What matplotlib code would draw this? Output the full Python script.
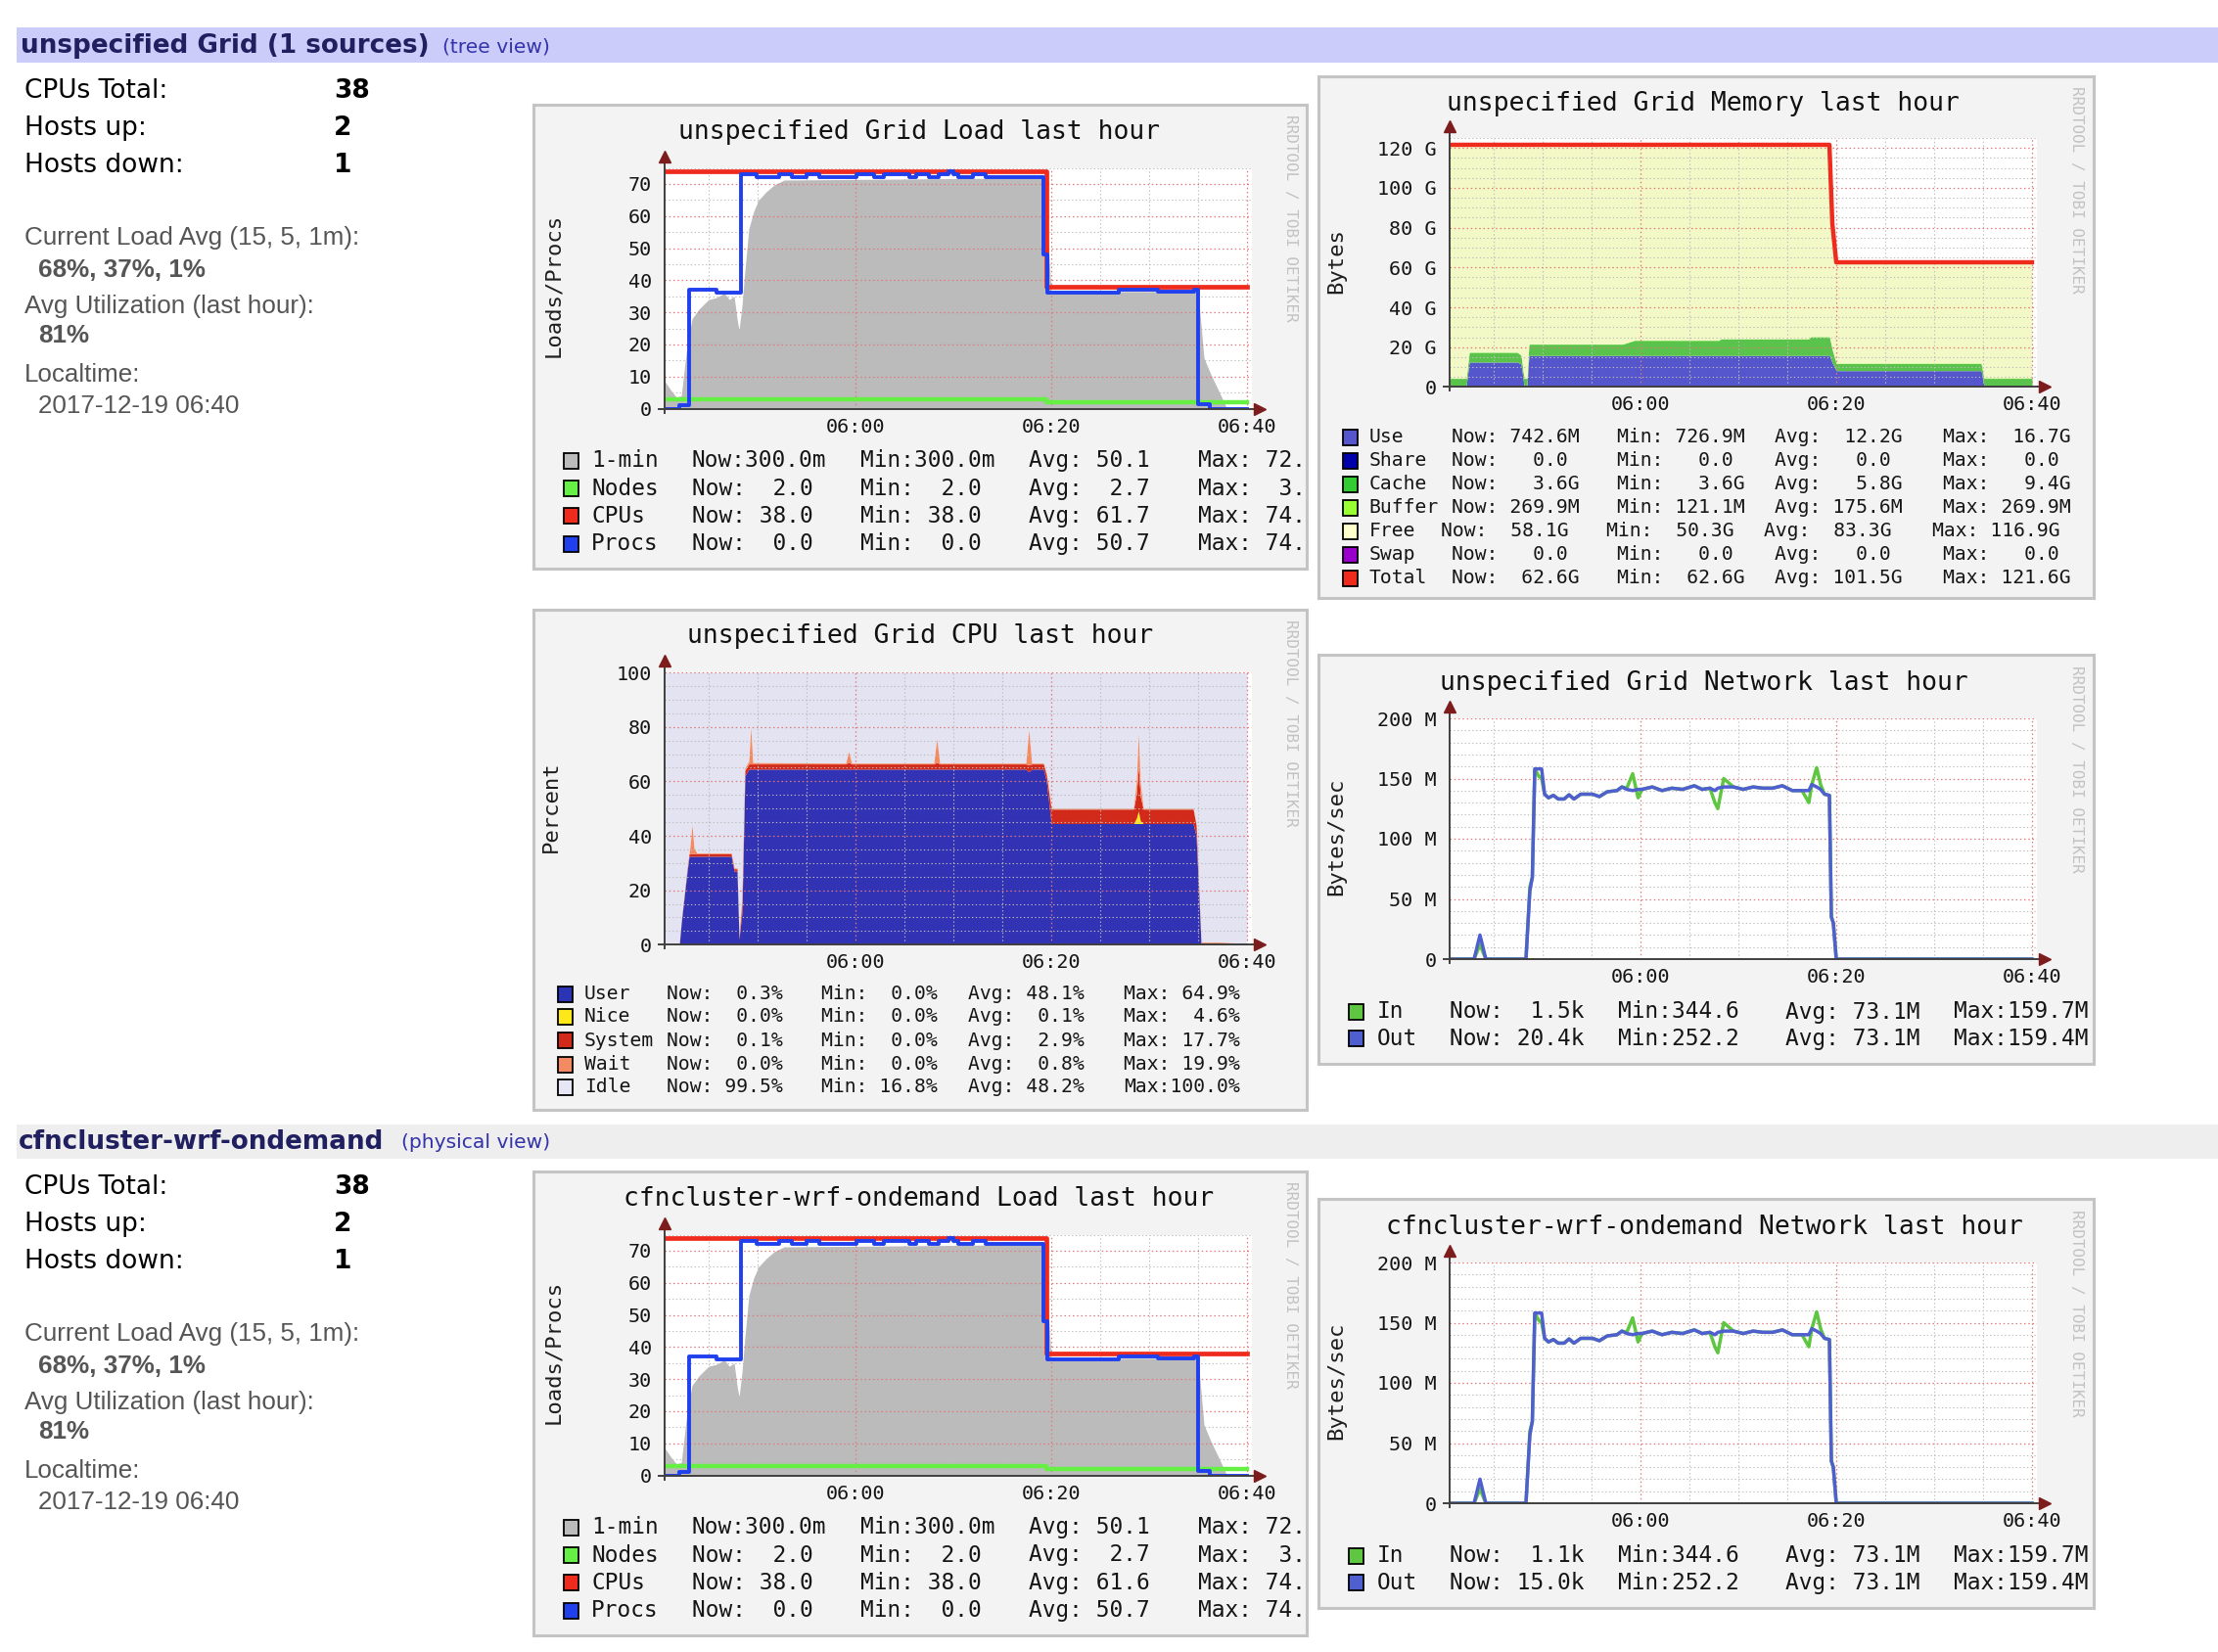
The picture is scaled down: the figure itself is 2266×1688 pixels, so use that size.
import numpy as np
import matplotlib
matplotlib.use('Agg')
import matplotlib.pyplot as plt
from matplotlib.patches import Rectangle

# ---------------- data ----------------
# times are minutes relative to 06:00
grid_title = 'unspecified Grid (1 sources)'
cluster_title = 'cfncluster-wrf-ondemand'
summary_labels = ['CPUs Total:', 'Hosts up:', 'Hosts down:']
summary_values = ['38', '2', '1']
load_avg_text = '68%, 37%, 1%'
avg_util_text = '81%'
localtime_text = '2017-12-19 06:40'

time_ticks = [0, 20, 40]
time_labels = ['06:00', '06:20', '06:40']

# load graph
load_1min_t = [-19.5, -18.8, -18.3, -17.8, -17.2, -16.7, -16.0, -15.0, -14.2, -13.4, -12.9, -12.4,
               -12.1, -11.9, -11.6, -11.3, -10.9, -10.4, -9.9, -9.1, -8.3, -7.3, 19.2, 19.5, 20.0,
               35.0, 35.6, 36.3, 37.1, 37.9, 40.0]
load_1min = [8.6, 5.5, 3.6, 4.0, 20.0, 28.0, 31.0, 34.0, 34.6, 36.0, 34.0, 35.0,
             28.0, 24.4, 32.0, 43.0, 56.0, 61.5, 65.0, 67.6, 69.7, 71.2, 71.9, 60.0, 36.5,
             36.5, 15.8, 10.7, 5.6, 0.3, 0.3]
procs_t = [-19.5, -18.0, -17.0, -14.2, -11.7, -10.1, -7.8, -6.5, -5.0, -3.7, 0.1, 1.9, 2.9, 5.5, 6.2,
           7.5, 8.5, 9.5, 10.0, 10.5, 12.0, 13.3, 19.2, 19.6, 26.9, 30.9, 34.6, 35.0, 36.2, 40.0]
procs = [0, 1, 37, 36, 73, 72, 73, 72, 73, 72, 73, 72, 73, 72, 73,
         72, 73, 74, 73, 72, 73, 72, 48, 36, 37, 36.5, 37, 1.5, 0, 0]
cpus_t = [-19.5, 19.5, 40.0]
cpus = [74, 38, 38]
nodes_t = [-19.5, 19.5, 40.0]
nodes = [3, 2, 2]

load_legend = [('1-min', 'Now:300.0m', 'Min:300.0m', 'Avg: 50.1', 'Max: 72.4'),
               ('Nodes', 'Now:  2.0', 'Min:  2.0', 'Avg:  2.7', 'Max:  3.0'),
               ('CPUs', 'Now: 38.0', 'Min: 38.0', 'Avg: 61.7', 'Max: 74.0'),
               ('Procs', 'Now:  0.0', 'Min:  0.0', 'Avg: 50.7', 'Max: 74.0')]
load_legend2 = [('1-min', 'Now:300.0m', 'Min:300.0m', 'Avg: 50.1', 'Max: 72.4'),
                ('Nodes', 'Now:  2.0', 'Min:  2.0', 'Avg:  2.7', 'Max:  3.0'),
                ('CPUs', 'Now: 38.0', 'Min: 38.0', 'Avg: 61.6', 'Max: 74.0'),
                ('Procs', 'Now:  0.0', 'Min:  0.0', 'Avg: 50.7', 'Max: 74.0')]

# memory graph (GB)
mem_t = [-19.5, -17.8, -17.5, -12.6, -12.2, -11.9, -11.6, -11.4, -1.8, -0.6,
         8.0, 8.2, 17.2, 17.4, 19.3, 19.6, 20.0, 34.8, 35.1, 40.0]
mem_use = [0.73, 0.73, 12.5, 12.5, 11.5, 0.73, 0.73, 15.8, 15.8, 15.8,
           15.8, 15.8, 15.8, 15.8, 15.8, 12.0, 8.2, 8.2, 0.74, 0.74]
mem_cache = [3.6, 3.6, 4.9, 4.9, 4.4, 3.6, 3.6, 5.7, 5.7, 7.6,
             7.6, 8.3, 8.3, 9.4, 9.4, 6.5, 3.6, 3.6, 3.6, 3.6]
mem_buffer = [0.12, 0.12, 0.14, 0.14, 0.14, 0.14, 0.15, 0.16, 0.16, 0.17,
              0.17, 0.18, 0.18, 0.2, 0.2, 0.22, 0.24, 0.26, 0.27, 0.27]
mem_total = [121.6, 121.6, 121.6, 121.6, 121.6, 121.6, 121.6, 121.6, 121.6, 121.6,
             121.6, 121.6, 121.6, 121.6, 121.6, 82.0, 62.6, 62.6, 62.6, 62.6]

mem_legend = [('Use', 'Now: 742.6M', 'Min: 726.9M', 'Avg:  12.2G', 'Max:  16.7G'),
              ('Share', 'Now:   0.0', 'Min:   0.0', 'Avg:   0.0', 'Max:   0.0'),
              ('Cache', 'Now:   3.6G', 'Min:   3.6G', 'Avg:   5.8G', 'Max:   9.4G'),
              ('Buffer', 'Now: 269.9M', 'Min: 121.1M', 'Avg: 175.6M', 'Max: 269.9M'),
              ('Free', 'Now:  58.1G', 'Min:  50.3G', 'Avg:  83.3G', 'Max: 116.9G'),
              ('Swap', 'Now:   0.0', 'Min:   0.0', 'Avg:   0.0', 'Max:   0.0'),
              ('Total', 'Now:  62.6G', 'Min:  62.6G', 'Avg: 101.5G', 'Max: 121.6G')]

# cpu graph (%)
cpu_t = [-19.5, -18.0, -17.8, -17.2, -17.0, -16.9, -16.7, -16.5, -16.2, -12.7,
         -12.4, -12.1, -11.9, -11.6, -11.3, -10.9, -10.7, -10.5, -1.0, -0.7,
         -0.4, 8.0, 8.3, 8.6, 17.4, 17.7, 18.0, 19.2, 19.5, 20.0,
         28.4, 28.7, 28.9, 29.1, 29.4, 34.5, 34.8, 35.3, 37.0, 40.0]
cpu_user = [0, 0, 8, 27, 32.5, 32.5, 32.5, 32.5, 32.5, 32.5,
            27, 27, 2, 12, 62, 64.5, 64.5, 64.5, 64.5, 64.5,
            64.5, 64.5, 64.5, 64.5, 64.5, 63.5, 64.5, 64.5, 60, 44.5,
            44.5, 44.5, 44.5, 44.5, 44.5, 44.5, 40, 0.3, 0.3, 0.3]
cpu_nice = [0, 0, 0, 0, 0, 0, 0, 0, 0, 0,
            0, 0, 0, 0, 0, 0, 0, 0, 0, 0,
            0, 0, 0, 0, 0, 0, 0, 0, 0, 0,
            0, 2, 4.6, 1, 0, 0, 0, 0, 0, 0]
cpu_system = [0, 0, 0.4, 0.8, 0.9, 0.9, 0.9, 0.9, 0.9, 0.9,
              0.9, 0.9, 0.5, 4, 2, 1.9, 1.9, 1.9, 1.9, 2.5,
              1.9, 1.9, 2.5, 1.9, 1.9, 2.5, 1.9, 1.9, 2.5, 5.3,
              5.3, 9, 16, 9, 5.3, 5.3, 4, 0.4, 0.4, 0.1]
cpu_wait = [0, 0, 0, 0, 0, 3, 10.6, 2, 0.3, 0.3,
            0.3, 0.3, 0.5, 2, 1, 1, 13.4, 0.5, 0.3, 4.0,
            0.3, 0.3, 8.6, 0.3, 0.3, 13, 0.3, 0.3, 0.3, 0.3,
            0.3, 5, 12.5, 5, 0.3, 0.3, 0.3, 0.3, 0.3, 0]

cpu_legend = [('User', 'Now:  0.3%', 'Min:  0.0%', 'Avg: 48.1%', 'Max: 64.9%'),
              ('Nice', 'Now:  0.0%', 'Min:  0.0%', 'Avg:  0.1%', 'Max:  4.6%'),
              ('System', 'Now:  0.1%', 'Min:  0.0%', 'Avg:  2.9%', 'Max: 17.7%'),
              ('Wait', 'Now:  0.0%', 'Min:  0.0%', 'Avg:  0.8%', 'Max: 19.9%'),
              ('Idle', 'Now: 99.5%', 'Min: 16.8%', 'Avg: 48.2%', 'Max:100.0%')]

# network graph (MB/s)
net_t = [-19.5, -17.0, -16.4, -15.8, -11.7, -11.3, -11.05, -10.8, -10.4, -10.1,
         -9.8, -9.4, -8.9, -8.4, -7.8, -7.3, -6.8, -6.1, -4.9, -4.2,
         -3.4, -2.4, -1.9, -1.4, -0.8, -0.25, 0.15, 1.2, 2.2, 3.2,
         4.3, 5.5, 6.3, 7.1, 7.6, 7.9, 8.5, 9.5, 10.5, 11.5,
         12.5, 13.5, 14.5, 15.5, 16.5, 17.2, 17.5, 18.0, 18.4, 18.8,
         19.3, 19.5, 19.7, 20.0, 40.0]
net_out = [0, 0, 20, 0, 0, 57, 68, 158, 158, 158,
           137, 134, 136, 133, 133, 136.5, 133, 137, 137, 135,
           139, 140, 143, 141, 140, 141, 141, 143, 140, 142,
           141, 144, 141, 142, 140, 142, 143, 143, 141, 143,
           142, 142, 144, 140, 140, 140, 145, 143, 141, 137,
           136, 35, 30, 0, 0]
net_in = [0, 0, 12, 0, 0, 60, 68, 158, 152, 150,
          137, 134, 136, 133, 133, 136.5, 133, 137, 137, 135,
          139, 140, 143, 142, 154, 134, 141, 143, 140, 142,
          141, 144, 141, 142, 130, 125, 150, 143, 141, 143,
          142, 142, 144, 140, 140, 130, 145, 159, 145, 137,
          136, 35, 30, 0, 0]

net_legend = [('In', 'Now:  1.5k', 'Min:344.6', 'Avg: 73.1M', 'Max:159.7M'),
              ('Out', 'Now: 20.4k', 'Min:252.2', 'Avg: 73.1M', 'Max:159.4M')]
net_legend2 = [('In', 'Now:  1.1k', 'Min:344.6', 'Avg: 73.1M', 'Max:159.7M'),
               ('Out', 'Now: 15.0k', 'Min:252.2', 'Avg: 73.1M', 'Max:159.4M')]

# ---------------- layout helpers (pixel coords, y from top) ----------------
W, H = 2266, 1688
MONO = 'DejaVu Sans Mono'
T0, T1 = -19.5, 40.5
PX_MIN = 10.0

fig = plt.figure(figsize=(W / 100, H / 100), dpi=100)
fig.patch.set_facecolor('white')


def fbox(x0, y0, x1, y1):
    return [x0 / W, 1 - y1 / H, (x1 - x0) / W, (y1 - y0) / H]


def put(x, y, s, **kw):
    fig.text(x / W, 1 - y / H, s, **kw)


def panel(x0, y0, x1, y1):
    ax = fig.add_axes(fbox(x0, y0, x1, y1), zorder=1)
    ax.set_xlim(x0, x1)
    ax.set_ylim(y1, y0)
    ax.set_facecolor('#f3f3f3')
    ax.set_xticks([])
    ax.set_yticks([])
    for s in ax.spines.values():
        s.set_color('#c4c4c4')
        s.set_linewidth(2.2)
    return ax


def graph(x_left, y_zero, ppu, ytop, major, minor, ylabels):
    x1 = x_left + (T1 - T0) * PX_MIN
    y0 = y_zero - ytop * ppu
    ax = fig.add_axes(fbox(x_left, y0, x1, y_zero), zorder=2)
    ax.set_xlim(T0, T1)
    ax.set_ylim(0, ytop)
    ax.set_facecolor('white')
    for s in ax.spines.values():
        s.set_visible(False)
    dot = (0, (1.2, 2.2))
    for v in minor:
        ax.axhline(v, color='#bdbdbd', lw=0.8, ls=dot, zorder=2.5)
    for v in major[1:]:
        ax.axhline(v, color='#e07a7a', lw=0.9, ls=dot, zorder=2.6)
    for m in [-15, -10, -5, 5, 10, 15, 25, 30, 35]:
        ax.axvline(m, color='#bdbdbd', lw=0.8, ls=dot, zorder=2.5)
    for m in time_ticks:
        ax.axvline(m, color='#e07a7a', lw=0.9, ls=dot, zorder=2.6)
    ax.set_xticks(time_ticks, time_labels)
    ax.set_yticks(major, ylabels)
    for lab in ax.get_xticklabels() + ax.get_yticklabels():
        lab.set_fontfamily(MONO)
        lab.set_fontsize(14.5)
        lab.set_color('#151515')
    ax.tick_params(axis='x', length=0, pad=6.5)
    ax.tick_params(axis='y', length=0, pad=9.5)
    # axes with arrows
    dy = 12 / ppu
    ax.plot([T0 - 0.6, 41.0], [0, 0], color='#404040', lw=1.4, clip_on=False, zorder=4)
    ax.plot([T0, T0], [-4 / ppu, ytop + dy], color='#404040', lw=1.4, clip_on=False, zorder=4)
    ax.plot([41.3], [0], marker='>', ms=8, color='#7d1c1c', clip_on=False, zorder=4)
    ax.plot([T0], [ytop + dy], marker='^', ms=8, color='#7d1c1c', clip_on=False, zorder=4)
    return ax


def legend(pax, rows, colors, row_y, cols, fs, shift=None):
    for i, (row, c, y) in enumerate(zip(rows, colors, row_y)):
        pax.add_patch(Rectangle((cols[0] - 7.5, y - 8), 15, 16, facecolor=c,
                                edgecolor='black', lw=1.3, zorder=3))
        dx = shift[i] if shift else 0
        pax.text(cols[1], y, row[0], family=MONO, fontsize=fs, va='center',
                 color='#151515', clip_on=True)
        for x, s in zip(cols[2:], row[1:]):
            pax.text(x + dx, y, s, family=MONO, fontsize=fs, va='center',
                     color='#151515', clip_on=True)


def decorate(pax, title, tx, ty, ylab, lx, ly, wx, wy):
    pax.text(tx, ty, title, family=MONO, fontsize=19, ha='center', va='center', color='#111111')
    pax.text(lx, ly, ylab, family=MONO, fontsize=16, ha='center', va='center',
             rotation=90, color='#1e1e1e')
    pax.text(wx, wy, 'RRDTOOL / TOBI OETIKER', family=MONO, fontsize=11.5, ha='center',
             va='center', rotation=270, color='#c2c2c2')


# ---------------- panels ----------------
def load_panel(dy, title, rows):
    pax = panel(545, 107 + dy, 1335, 581 + dy)
    decorate(pax, title, 939, 134.5 + dy, 'Loads/Procs', 565, 291.5 + dy, 1318.8, 223 + dy)
    ax = graph(679, 417.6 + dy, 3.281, 75, [0, 10, 20, 30, 40, 50, 60, 70],
               [5, 15, 25, 35, 45, 55, 65, 75], ['0', '10', '20', '30', '40', '50', '60', '70'])
    ax.fill_between(load_1min_t, load_1min, color='#bbbbbb', lw=0, zorder=1)
    ax.plot(nodes_t, nodes, drawstyle='steps-post', color='#66f046', lw=3.2, zorder=3)
    ax.plot(cpus_t, cpus, drawstyle='steps-post', color='#ee2b1d', lw=3.4, zorder=3)
    ax.plot(procs_t, procs, drawstyle='steps-post', color='#2040ee', lw=2.8, zorder=3)
    legend(pax, rows, ['#bbbbbb', '#66f046', '#ee2b1d', '#2040ee'],
           [470.5 + dy, 499 + dy, 527.3 + dy, 555.7 + dy],
           [583.4, 604, 706.6, 878.8, 1051, 1224.5], 16.4)


def net_panel(dy, title, rows):
    pax = panel(1347, 669 + dy, 2139, 1087 + dy)
    decorate(pax, title, 1741, 698 + dy, 'Bytes/sec', 1365.5, 854.5 + dy, 2121, 786 + dy)
    ax = graph(1481, 980 + dy, 1.23, 200, [0, 50, 100, 150, 200],
               [10, 20, 30, 40, 60, 70, 80, 90, 110, 120, 130, 140, 160, 170, 180, 190],
               ['0', '50 M', '100 M', '150 M', '200 M'])
    ax.plot(net_t, net_in, color='#5ec640', lw=2.5, zorder=3)
    ax.plot(net_t, net_out, color='#4f5fcf', lw=2.5, zorder=3)
    legend(pax, rows, ['#5ec640', '#4f5fcf'], [1034 + dy, 1061.3 + dy],
           [1385.7, 1407, 1481, 1653, 1824.5, 1996.4], 16.4)


def mem_panel():
    pax = panel(1347, 78, 2139, 611)
    decorate(pax, 'unspecified Grid Memory last hour', 1740, 105.6, 'Bytes', 1365.5, 267, 2121, 194)
    ax = graph(1481, 395.4, 2.035, 125, [0, 20, 40, 60, 80, 100, 120],
               [5, 10, 15, 25, 30, 35, 45, 50, 55, 65, 70, 75, 85, 90, 95, 105, 110, 115, 125],
               ['0', '20 G', '40 G', '60 G', '80 G', '100 G', '120 G'])
    t = np.array(mem_t)
    use = np.array(mem_use)
    top_cache = use + np.array(mem_cache)
    top_buf = top_cache + np.array(mem_buffer)
    ax.fill_between(t, 0, use, color='#5555cc', lw=0, zorder=1)
    ax.fill_between(t, use, top_cache, color='#5ac34c', lw=0, zorder=1)
    ax.fill_between(t, top_cache, top_buf, color='#99ff33', lw=0, zorder=1)
    ax.fill_between(t, top_buf, mem_total, color='#f2f8c6', lw=0, zorder=1)
    ax.plot(t, mem_total, color='#ee2b1d', lw=3.2, zorder=3)
    legend(pax, mem_legend,
           ['#5555cc', '#0000aa', '#33cc33', '#99ff33', '#ffffcc', '#9900cc', '#ee2b1d'],
           [447, 470.6, 494.5, 518.5, 542.7, 566.6, 590.5],
           [1379.8, 1398.7, 1482.9, 1652, 1813.5, 1985.4], 14.1,
           shift=[0, 0, 0, 0, -11, 0, 0])


def cpu_panel():
    pax = panel(545, 623, 1335, 1134)
    decorate(pax, 'unspecified Grid CPU last hour', 940, 650, 'Percent', 563, 824.4, 1318.8, 739)
    ax = graph(679, 965.3, 2.782, 100, [0, 20, 40, 60, 80, 100],
               [5, 10, 15, 25, 30, 35, 45, 50, 55, 65, 70, 75, 85, 90, 95],
               ['0', '20', '40', '60', '80', '100'])
    t = np.array(cpu_t)
    s1 = np.array(cpu_user)
    s2 = s1 + np.array(cpu_nice)
    s3 = s2 + np.array(cpu_system)
    s4 = s3 + np.array(cpu_wait)
    ax.fill_between(t, 0, s1, color='#3232b4', lw=0, zorder=1)
    ax.fill_between(t, s1, s2, color='#ffe81a', lw=0, zorder=1)
    ax.fill_between(t, s2, s3, color='#d22a1a', lw=0, zorder=1)
    ax.fill_between(t, s3, s4, color='#f48a62', lw=0, zorder=1)
    ax.fill_between(t, s4, 100, color='#e3e3f1', lw=0, zorder=0.9)
    legend(pax, cpu_legend, ['#2b34b4', '#ffe81a', '#d22a1a', '#f48a62', '#e6e6f4'],
           [1015.7, 1039, 1063.4, 1087.5, 1110.8],
           [577.5, 596.9, 681, 839.3, 988.8, 1148], 14.1)


# ---------------- page text ----------------
def summary(dy):
    for lab, val, y in zip(summary_labels, summary_values, [92.5, 130.5, 169]):
        put(25, y + dy, lab, family='DejaVu Sans', fontsize=19, va='center', color='black')
        put(341, y + dy, val, family='DejaVu Sans', fontsize=19, weight='bold', va='center',
            color='black')
    g = '#555555'
    put(25, 243 + dy, 'Current Load Avg (15, 5, 1m):', family='Liberation Sans', fontsize=18.7,
        va='center', color=g)
    put(39, 276 + dy, load_avg_text, family='Liberation Sans', fontsize=18.7, weight='bold',
        va='center', color=g)
    put(25, 313 + dy, 'Avg Utilization (last hour):', family='Liberation Sans', fontsize=18.7,
        va='center', color=g)
    put(39, 343 + dy, avg_util_text, family='Liberation Sans', fontsize=18.7, weight='bold',
        va='center', color=g)
    put(25, 383 + dy, 'Localtime:', family='Liberation Sans', fontsize=18.7, va='center', color=g)
    put(39, 414.5 + dy, localtime_text, family='Liberation Sans', fontsize=18.7, va='center',
        color=g)


fig.add_artist(Rectangle((17 / W, 1 - 63.5 / H), (W - 17) / W, 35 / H, transform=fig.transFigure,
                         facecolor='#ccccfa', edgecolor='none', zorder=0))
fig.add_artist(Rectangle((17 / W, 1 - 1183.5 / H), (W - 17) / W, 35 / H, transform=fig.transFigure,
                         facecolor='#eeeeee', edgecolor='none', zorder=0))
put(21.4, 47.5, grid_title, family='DejaVu Sans', fontsize=18.9, weight='bold', va='center',
    color='#202060')
put(451.8, 48.5, '(tree view)', family='DejaVu Sans', fontsize=14.6, va='center', color='#3333aa')
put(19, 1166.5, cluster_title, family='DejaVu Sans', fontsize=18.9, weight='bold', va='center',
    color='#202060')
put(410, 1167.5, '(physical view)', family='DejaVu Sans', fontsize=14.6, va='center',
    color='#3333aa')

summary(0)
summary(1120)
load_panel(0, 'unspecified Grid Load last hour', load_legend)
mem_panel()
cpu_panel()
net_panel(0, 'unspecified Grid Network last hour', net_legend)
load_panel(1090, 'cfncluster-wrf-ondemand Load last hour', load_legend2)
net_panel(556, 'cfncluster-wrf-ondemand Network last hour', net_legend2)

fig.savefig('out.png', dpi=100)
